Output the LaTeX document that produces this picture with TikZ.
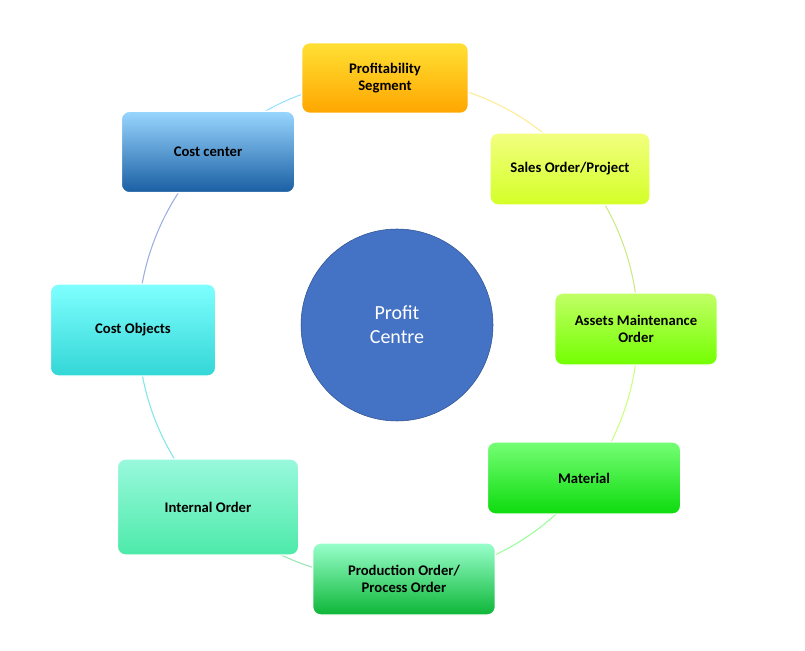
\documentclass[tikz,border=0pt]{standalone}
\usepackage{fontspec}
\setmainfont{Carlito}
\begin{document}
\begin{tikzpicture}[x=0.75pt,y=0.75pt,
 box/.style={rounded corners=6pt,draw=white,line width=1pt,font=\bfseries\fontsize{11}{13}\selectfont,align=center,text=black,inner sep=2pt},
 ring/.style={line width=0.8pt}]
\useasboundingbox (0,0) rectangle (805,650);
\coordinate (O) at (388,321);
\foreach \a/\b/\c in {90/41/yellow!70!orange!40,41/0/yellow!60!green!50,0/-37/green!40!yellow!50,-37/-86/green!40,-86/-135/green!50!teal!40,-135/-180/teal!40!cyan!50,180/135/cyan!40!blue!40,135/90/blue!30!cyan!40}
 \draw[ring,color=\c] ([shift={(\a:187.5pt)}]O) arc[start angle=\a,end angle=\b,radius=187.5pt];
\node[circle,minimum size=144pt,fill={rgb,255:red,68;green,114;blue,196},draw={rgb,255:red,47;green,82;blue,143},text=white,font=\fontsize{15}{18}\selectfont,align=center] (pc) at (397,325) {Profit\\Centre};
\node[box,minimum width=125pt,minimum height=53pt,top color=orange!30!yellow!80,bottom color=orange!70!yellow] (ps) at (385,572) {Profitability\\Segment};
\node[box,minimum width=120pt,minimum height=54pt,top color=yellow!90!green!50,bottom color=yellow!80!green!85] (so) at (570,481) {Sales Order/Project};
\node[box,minimum width=122pt,minimum height=54pt,top color=green!40!yellow!60,bottom color=green!55!yellow] (am) at (636,321) {Assets Maintenance\\Order};
\node[box,minimum width=145pt,minimum height=54pt,top color=green!60!white!90,bottom color=green!85!black!95] (ma) at (584,172) {Material};
\node[box,minimum width=137pt,minimum height=54pt,top color=green!50!cyan!40,bottom color=green!75!cyan!70!black!95] (po) at (404,71) {Production Order/\\Process Order};
\node[box,minimum width=136pt,minimum height=72pt,top color=teal!30!green!40!cyan!40,bottom color=teal!40!green!60!cyan!70] (io) at (208,143) {Internal Order};
\node[box,minimum width=124pt,minimum height=69pt,top color=cyan!50,bottom color=cyan!60!teal!80] (co) at (133,320) {Cost Objects};
\node[box,minimum width=130pt,minimum height=61pt,top color=blue!40!cyan!40,bottom color=blue!50!cyan!60!black!90] (cc) at (208,498) {Cost center};
\end{tikzpicture}
\end{document}
